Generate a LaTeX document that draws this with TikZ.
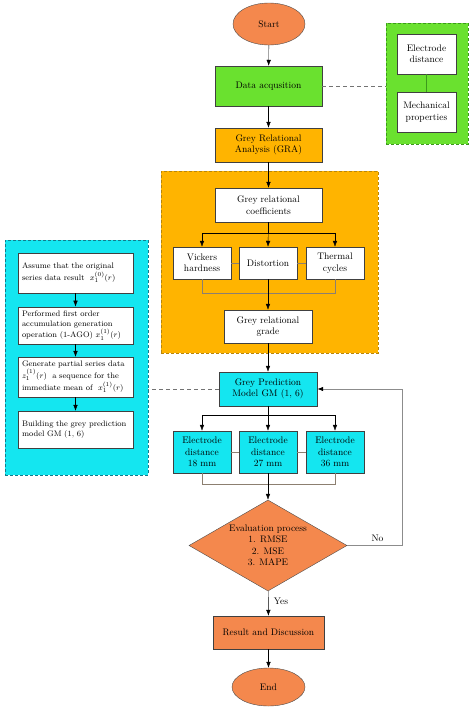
\documentclass[tikz,border=0pt]{standalone}
\usepackage{tikz}
\usepackage{amsmath}
\usetikzlibrary{shapes.geometric,arrows.meta}

\definecolor{evalorange}{HTML}{F4884D}
\definecolor{acqgreen}{HTML}{6AE12F}
\definecolor{acqgreendark}{HTML}{3C9A1C}
\definecolor{graamber}{HTML}{FFB400}
\definecolor{graamberdark}{HTML}{B8860B}
\definecolor{gmcyan}{HTML}{14E6F0}
\definecolor{gmcyandark}{HTML}{127C8C}
\definecolor{linkgrey}{HTML}{8C7F70}

\begin{document}
\begin{tikzpicture}[x=1pt, y=-1pt, font=\fontsize{9.5}{11.5}\selectfont,
  box/.style={draw=black!75, rectangle, inner sep=2pt, align=center},
  wbox/.style={box, fill=white},
  leftbox/.style={draw=black!75, fill=white, rectangle, align=left,
    font=\fontsize{8}{9.8}\selectfont, text width=107pt, inner sep=4pt},
  group/.style={rectangle, thick, dash pattern=on 3pt off 2pt},
  arr/.style={-{Latex[length=6pt,width=4.5pt,color=black]}},
  link/.style={draw=linkgrey}
]
\useasboundingbox (0,0) rectangle (474,712);

% Groups in the back
\node[group, fill=acqgreen, draw=acqgreendark, minimum width=82pt, minimum height=121pt] (gcont) at (427,83.5) {};
\node[group, fill=graamber, draw=graamberdark, minimum width=217pt, minimum height=182pt] (ocont) at (269.5,262) {};
\node[group, fill=gmcyan, draw=gmcyandark, minimum width=143pt, minimum height=235pt] (ccont) at (76.5,357.5) {};

% Main column
\node[ellipse, fill=evalorange, draw=black!70, minimum width=72pt, minimum height=42pt] (start) at (269,24) {Start};
\node[box, fill=acqgreen, minimum width=107pt, minimum height=40pt] (data) at (268.5,86) {Data acqusition};
\node[box, fill=graamber, minimum width=107pt, minimum height=34pt] (gra) at (268.5,145) {Grey Relational\\ Analysis (GRA)};

% Green group
\node[wbox, minimum width=59pt, minimum height=40pt] (elec) at (426.5,54) {Electrode\\ distance};
\node[wbox, minimum width=59pt, minimum height=40pt] (mech) at (426.5,112) {Mechanical\\ properties};
\draw[acqgreendark, thick] (elec.south) -- (mech.north);

% Orange group
\node[wbox, minimum width=107pt, minimum height=34pt] (grc) at (268.5,205) {Grey relational\\ coefficients};
\node[wbox, minimum width=58pt, minimum height=32pt] (vick) at (202,263) {Vickers\\ hardness};
\node[wbox, minimum width=58pt, minimum height=32pt] (dist) at (268,263) {Distortion};
\node[wbox, minimum width=58pt, minimum height=32pt] (therm) at (335,263) {Thermal\\ cycles};
\node[wbox, minimum width=88pt, minimum height=33pt] (grade) at (268,326.5) {Grey relational\\ grade};

% Cyan group
\node[leftbox, minimum height=40pt] (c1) at (75.5,273) {Assume that the original\\ series data result \ $x_1^{(0)}(r)$};
\node[leftbox, minimum height=37pt] (c2) at (75.5,325.5) {Performed first order\\ accumulation generation\\ operation (1-AGO) $x_1^{(1)}(r)$};
\node[leftbox, minimum height=38pt] (c3) at (75.5,377) {Generate partial series data\\ $z_1^{(1)}(r)$ \ a sequence for the\\ immediate mean of \ $x_1^{(1)}(r)$};
\node[leftbox, minimum height=37pt] (c4) at (75.5,429.5) {Building the grey prediction\\ model GM (1, 6)};

% Prediction part
\node[box, fill=gmcyan, minimum width=98pt, minimum height=34pt] (gp) at (268,389) {Grey Prediction\\ Model GM (1, 6)};
\node[box, fill=gmcyan, minimum width=58pt, minimum height=42pt] (e18) at (202,452) {Electrode\\ distance\\ 18 mm};
\node[box, fill=gmcyan, minimum width=58pt, minimum height=42pt] (e27) at (268,452) {Electrode\\ distance\\ 27 mm};
\node[box, fill=gmcyan, minimum width=58pt, minimum height=42pt] (e36) at (335,452) {Electrode\\ distance\\ 36 mm};
\node[diamond, fill=evalorange, draw=black!70, aspect=1.74, inner sep=0pt, align=center,
  minimum width=158pt, minimum height=91pt] (eval) at (268,545.5) {Evaluation process\\ 1. RMSE\\ 2. MSE\\ 3. MAPE};
\node[box, fill=evalorange, minimum width=111pt, minimum height=33pt] (result) at (268.5,632.5) {Result and Discussion};
\node[ellipse, fill=evalorange, draw=black!70, minimum width=73pt, minimum height=38pt] (end) at (268.5,687) {End};

% Arrows down the middle
\draw[arr] (start) -- (data);
\draw[arr] (data) -- (gra);
\draw[arr] (gra) -- (grc);
\draw[arr] (grc.south) -- (dist.north);
\draw[arr] (grc.south) -- ++(0,11) -| (vick.north);
\draw[arr] (grc.south) -- ++(0,11) -| (therm.north);
\draw[link] (vick) -- (dist);
\draw[link] (dist) -- (therm);
\draw[link] (vick.south) -- ++(0,14) -| (therm.south);
\draw[arr] (dist) -- (grade);
\draw[arr] (grade) -- (gp);
\draw[arr] (gp.south) -- (e27.north);
\draw[arr] (gp.south) -- ++(0,9) -| (e18.north);
\draw[arr] (gp.south) -- ++(0,9) -| (e36.north);
\draw[link] (e18) -- (e27);
\draw[link] (e27) -- (e36);
\draw[link] (e18.south) -- ++(0,11) -| (e36.south);
\draw[arr] (e27) -- (eval);
\draw[arr] (eval) -- node[right, pos=0.4, xshift=2pt] (yes) {Yes} (result);
\draw[arr] (result) -- (end);

% Cyan steps
\draw[arr] (c1) -- (c2);
\draw[arr] (c2) -- (c3);
\draw[arr] (c3) -- (c4);

% Feedback
\draw[arr, draw=black!45, thick] (eval.east) -- node[above, pos=0.55] (no) {No} ++(55,0) |- (gp.east);

% Dashed links to groups
\draw[black!55, thick, dash pattern=on 4pt off 3pt] (data.east) -- (data.east -| gcont.west);
\draw[black!55, thick, dash pattern=on 4pt off 3pt] (gp.west) -- (gp.west -| ccont.east);

\end{tikzpicture}
\end{document}
